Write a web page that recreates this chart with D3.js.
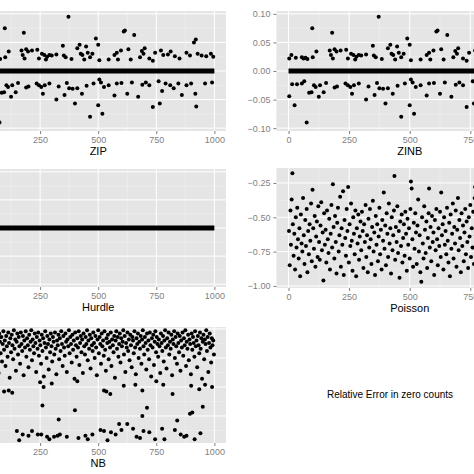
<!DOCTYPE html>
<html>
<head>
<meta charset="utf-8">
<script src="https://cdn.jsdelivr.net/npm/d3@7"></script>
<style>
  body { margin: 0; background: #fff; }
  text { font-family: "Liberation Sans", Arial, sans-serif; }
</style>
</head>
<body>
<div id="chart"></div>
<script>
// non-zero relative errors for the zero-inflated fits [index, error]
var zeroInflatedPoints = [
  [3,0.022],[12,0.028],[30,0.023],[55,0.024],[62,0.022],[70,0.023],[78,0.021],[98,0.075],[100,0.024],[115,0.034],
  [170,0.036],[175,0.028],[180,0.067],[183,0.022],[190,0.038],[198,0.034],[215,0.036],[238,0.037],[245,0.022],[258,0.030],
  [268,0.028],[275,0.020],[280,0.025],[290,0.028],[300,0.027],[320,0.029],[348,0.044],[352,0.027],[360,0.024],[372,0.095],
  [385,0.021],[410,0.040],[420,0.046],[425,0.030],[432,0.028],[440,0.020],[448,0.043],[455,0.032],[465,0.024],[475,0.030],
  [490,0.057],[500,0.046],[505,0.019],[545,0.020],[570,0.028],[580,0.032],[585,0.020],[598,0.036],[610,0.069],[615,0.071],
  [630,0.038],[640,0.020],[655,0.063],[680,0.024],[688,0.035],[695,0.030],[700,0.040],[720,0.022],[735,0.018],[745,0.032],
  [770,0.036],[780,0.028],[800,0.029],[812,0.034],[830,0.026],[850,0.022],[880,0.032],[895,0.027],[912,0.050],[920,0.055],
  [928,0.030],[945,0.027],[965,0.026],[985,0.030],[995,0.025],
  [3,-0.044],[15,-0.023],[25,-0.060],[35,-0.023],[55,-0.022],[65,-0.018],[75,-0.090],[85,-0.038],[95,-0.037],[105,-0.025],
  [112,-0.028],[125,-0.045],[130,-0.025],[145,-0.037],[155,-0.021],[190,-0.029],[200,-0.027],[235,-0.022],[245,-0.025],[255,-0.028],
  [262,-0.040],[270,-0.025],[290,-0.022],[320,-0.050],[330,-0.027],[355,-0.042],[365,-0.021],[375,-0.030],[390,-0.031],[400,-0.057],
  [410,-0.030],[430,-0.040],[450,-0.026],[465,-0.080],[480,-0.022],[500,-0.060],[505,-0.015],[512,-0.020],[518,-0.075],[525,-0.028],
  [545,-0.025],[570,-0.043],[580,-0.022],[600,-0.021],[625,-0.040],[645,-0.020],[672,-0.045],[690,-0.024],[705,-0.020],[720,-0.025],
  [735,-0.063],[760,-0.018],[765,-0.057],[775,-0.035],[790,-0.022],[810,-0.025],[825,-0.030],[845,-0.022],[860,-0.042],[880,-0.025],
  [900,-0.022],[918,-0.040],[922,-0.062],[960,-0.022],[990,-0.020]
];

// the bulk of the simulations sit exactly at zero
var zeroRun = [[0,0],[1000,0]];

var poissonPoints = [
  [2,-0.60],[5,-0.85],[8,-0.45],[10,-0.70],[13,-0.37],[16,-0.18],[18,-0.55],[21,-0.78],[24,-0.62],[27,-0.88],
  [30,-0.50],[33,-0.72],[36,-0.43],[39,-0.66],[42,-0.80],[45,-0.58],[48,-0.93],[51,-0.48],[54,-0.69],[57,-0.75],
  [60,-0.36],[63,-0.63],[66,-0.84],[69,-0.52],[72,-0.71],[75,-0.44],[78,-0.90],[81,-0.60],[84,-0.77],[87,-0.55],
  [90,-0.67],[93,-0.40],[96,-0.82],[99,-0.30],[102,-0.58],[105,-0.73],[108,-0.49],[111,-0.86],[114,-0.64],[117,-0.53],
  [120,-0.79],[123,-0.42],[126,-0.68],[129,-0.81],[132,-0.56],[135,-0.39],[138,-0.74],[141,-0.61],[144,-0.96],[147,-0.47],
  [150,-0.70],[153,-0.59],[156,-0.83],[159,-0.45],[162,-0.66],[165,-0.76],[168,-0.51],[171,-0.88],[174,-0.62],[177,-0.41],
  [180,-0.72],[183,-0.26],[186,-0.57],[189,-0.80],[192,-0.49],[195,-0.68],[198,-0.91],[201,-0.54],[204,-0.43],[207,-0.75],
  [210,-0.63],[213,-0.35],[216,-0.86],[219,-0.58],[222,-0.70],[225,-0.31],[228,-0.92],[231,-0.52],[234,-0.65],[237,-0.78],
  [240,-0.44],[243,-0.60],[246,-0.28],[249,-0.83],[252,-0.55],[255,-0.71],[258,-0.40],[261,-0.67],[264,-0.89],[267,-0.50],
  [270,-0.62],[273,-0.77],[276,-0.45],[279,-0.93],[282,-0.58],[285,-0.69],[288,-0.48],[291,-0.81],[294,-0.64],[297,-0.53],
  [300,-0.74],[303,-0.46],[306,-0.60],[309,-0.87],[312,-0.55],[315,-0.68],[318,-0.41],[321,-0.79],[324,-0.63],[327,-0.90],
  [330,-0.51],[333,-0.72],[336,-0.44],[339,-0.66],[342,-0.84],[345,-0.57],[348,-0.38],[351,-0.75],[354,-0.61],[357,-0.92],
  [360,-0.49],[363,-0.70],[366,-0.55],[369,-0.82],[372,-0.64],[375,-0.43],[378,-0.77],[381,-0.59],[384,-0.88],[387,-0.52],
  [390,-0.67],[393,-0.32],[396,-0.73],[399,-0.56],[402,-0.85],[405,-0.47],[408,-0.62],[411,-0.79],[414,-0.40],[417,-0.69],
  [420,-0.58],[423,-0.91],[426,-0.50],[429,-0.74],[432,-0.63],[435,-0.45],[437,-0.20],[440,-0.81],[443,-0.57],[446,-0.68],
  [449,-0.42],[452,-0.76],[455,-0.60],[458,-0.94],[461,-0.53],[464,-0.71],[467,-0.48],[470,-0.83],[473,-0.65],[476,-0.55],
  [479,-0.78],[482,-0.46],[485,-0.62],[488,-0.89],[491,-0.51],[494,-0.70],[497,-0.58],[500,-0.80],[503,-0.44],[505,-0.24],
  [508,-0.29],[511,-0.66],[514,-0.86],[517,-0.54],[520,-0.73],[523,-0.47],[526,-0.61],[529,-0.84],[532,-0.56],[535,-0.37],
  [538,-0.75],[541,-0.63],[544,-0.90],[548,-0.97],[551,-0.50],[554,-0.69],[557,-0.80],[560,-0.42],[563,-0.59],[566,-0.76],
  [569,-0.53],[572,-0.87],[575,-0.65],[578,-0.47],[580,-0.29],[583,-0.72],[586,-0.57],[589,-0.82],[592,-0.49],[595,-0.68],
  [598,-0.61],[601,-0.92],[604,-0.52],[607,-0.74],[610,-0.44],[613,-0.66],[616,-0.85],[619,-0.58],[622,-0.71],[625,-0.46],
  [628,-0.79],[630,-0.32],[633,-0.63],[636,-0.55],[639,-0.88],[642,-0.50],[645,-0.70],[648,-0.60],[651,-0.77],[654,-0.43],
  [657,-0.67],[660,-0.83],[663,-0.54],[666,-0.93],[669,-0.48],[672,-0.73],[675,-0.62],[678,-0.40],[681,-0.80],[684,-0.57],
  [687,-0.69],[690,-0.45],[693,-0.86],[696,-0.59],[699,-0.36],[702,-0.74],[705,-0.52],[708,-0.65],[711,-0.90],[714,-0.47],
  [717,-0.71],[720,-0.56],[723,-0.82],[726,-0.61],[729,-0.44],[732,-0.77],[735,-0.53],[738,-0.68],[741,-0.87],[744,-0.50],
  [747,-0.64],[750,-0.41],[753,-0.79],[756,-0.58],[759,-0.72],[762,-0.46],[765,-0.84],[768,-0.36],[770,-0.28],[773,-0.63],
  [776,-0.55],[780,-0.95],[783,-0.70],[786,-0.49],[789,-0.76],[792,-0.60],[795,-0.86],[798,-0.52],[801,-0.67],[804,-0.44],
  [807,-0.81],[810,-0.57],[813,-0.73],[816,-0.48],[819,-0.91],[822,-0.62],[825,-0.39],[828,-0.75],[831,-0.54],[834,-0.69],
  [837,-0.83],[840,-0.46],[843,-0.65],[846,-0.58],[849,-0.88],[852,-0.51],[855,-0.72],[858,-0.43],[861,-0.78],[864,-0.61],
  [867,-0.55],[870,-0.92],[873,-0.47],[876,-0.70],[879,-0.63],[882,-0.34],[885,-0.80],[888,-0.56],[891,-0.68],[894,-0.45],
  [897,-0.85],[900,-0.59],[903,-0.74],[906,-0.50],[909,-0.66],[912,-0.89],[915,-0.42],[918,-0.77],[921,-0.60],[924,-0.53],
  [927,-0.71],[930,-0.87],[933,-0.48],[936,-0.64],[939,-0.57],[942,-0.82],[945,-0.38],[948,-0.69],[951,-0.52],[954,-0.76],
  [957,-0.62],[960,-0.93],[963,-0.46],[966,-0.73],[969,-0.58],[972,-0.84],[975,-0.51],[978,-0.67],[981,-0.44],[984,-0.79],
  [987,-0.61],[990,-0.55],[993,-0.88],[996,-0.49],[999,-0.70]
];

// NB panel: y axis labels are cut off in the source, values on a 0..1 scale
var nbPoints = [
  [2,0.92],[5,0.78],[8,0.98],[11,0.85],[14,0.71],[17,0.95],[20,0.88],[23,0.80],[26,0.66],[29,0.93],
  [32,0.87],[35,0.75],[38,0.97],[41,0.83],[44,0.90],[47,0.69],[50,0.94],[53,0.81],[56,0.86],[59,0.99],
  [62,0.77],[65,0.91],[68,0.84],[71,0.62],[74,0.96],[77,0.89],[80,0.79],[83,0.93],[86,0.72],[89,0.87],
  [92,0.98],[95,0.82],[98,0.90],[101,0.68],[104,0.94],[107,0.85],[110,0.76],[113,0.97],[116,0.88],[119,0.58],
  [122,0.92],[125,0.80],[128,0.95],[131,0.86],[134,0.74],[137,0.99],[140,0.83],[143,0.91],[146,0.64],[149,0.89],
  [152,0.96],[155,0.78],[158,0.93],[161,0.85],[164,0.70],[167,0.97],[170,0.87],[173,0.81],[176,0.94],[179,0.60],
  [182,0.90],[185,0.84],[188,0.98],[191,0.76],[194,0.92],[197,0.86],[200,0.67],[203,0.95],[206,0.82],[209,0.89],
  [212,0.99],[215,0.73],[218,0.91],[221,0.85],[224,0.79],[227,0.96],[230,0.88],[233,0.63],[236,0.93],[239,0.83],
  [242,0.97],[245,0.77],[248,0.90],[251,0.86],[254,0.70],[257,0.95],[260,0.81],[263,0.92],[266,0.59],[269,0.88],
  [272,0.98],[275,0.84],[278,0.75],[281,0.94],[284,0.87],[287,0.65],[290,0.91],[293,0.80],[296,0.96],[299,0.85],
  [302,0.72],[305,0.93],[308,0.89],[311,0.78],[314,0.97],[317,0.83],[320,0.61],[323,0.90],[326,0.86],[329,0.95],
  [332,0.74],[335,0.92],[338,0.81],[341,0.98],[344,0.87],[347,0.68],[350,0.94],[353,0.84],[356,0.77],[359,0.96],
  [362,0.89],[365,0.63],[368,0.91],[371,0.85],[374,0.99],[377,0.79],[380,0.93],[383,0.87],[386,0.71],[389,0.95],
  [392,0.82],[395,0.90],[398,0.57],[401,0.97],[404,0.86],[407,0.76],[410,0.92],[413,0.84],[416,0.98],[419,0.69],
  [422,0.88],[425,0.94],[428,0.80],[431,0.91],[434,0.62],[437,0.96],[440,0.85],[443,0.78],[446,0.93],[449,0.87],
  [452,0.99],[455,0.73],[458,0.90],[461,0.83],[464,0.95],[467,0.66],[470,0.92],[473,0.86],[476,0.81],[479,0.97],
  [482,0.88],[485,0.75],[488,0.94],[491,0.84],[494,0.60],[497,0.91],[500,0.99],[503,0.79],[506,0.93],[509,0.87],
  [512,0.70],[515,0.96],[518,0.85],[521,0.90],[524,0.77],[527,0.98],[530,0.82],[533,0.64],[536,0.92],[539,0.88],
  [542,0.95],[545,0.74],[548,0.89],[551,0.84],[554,0.97],[557,0.68],[560,0.91],[563,0.86],[566,0.80],[569,0.94],
  [572,0.58],[575,0.90],[578,0.98],[581,0.83],[584,0.93],[587,0.76],[590,0.87],[593,0.96],[596,0.71],[599,0.92],
  [602,0.85],[605,0.89],[608,0.99],[611,0.78],[614,0.94],[617,0.63],[620,0.88],[623,0.84],[626,0.97],[629,0.81],
  [632,0.91],[635,0.73],[638,0.95],[641,0.86],[644,0.67],[647,0.93],[650,0.90],[653,0.79],[656,0.98],[659,0.84],
  [662,0.61],[665,0.92],[668,0.87],[671,0.96],[674,0.75],[677,0.89],[680,0.83],[683,0.94],[686,0.70],[689,0.91],
  [692,0.99],[695,0.85],[698,0.78],[701,0.93],[704,0.88],[707,0.65],[710,0.96],[713,0.82],[716,0.90],[719,0.74],
  [722,0.97],[725,0.86],[728,0.59],[731,0.92],[734,0.84],[737,0.95],[740,0.69],[743,0.89],[746,0.98],[749,0.80],
  [752,0.93],[755,0.87],[758,0.76],[761,0.91],[764,0.85],[767,0.62],[770,0.96],[773,0.88],[776,0.81],[779,0.94],
  [782,0.72],[785,0.90],[788,0.99],[791,0.84],[794,0.66],[797,0.92],[800,0.86],[803,0.97],[806,0.78],[809,0.89],
  [812,0.83],[815,0.95],[818,0.60],[821,0.91],[824,0.87],[827,0.98],[830,0.75],[833,0.93],[836,0.85],[839,0.70],
  [842,0.96],[845,0.88],[848,0.80],[851,0.94],[854,0.64],[857,0.90],[860,0.84],[863,0.97],[866,0.77],[869,0.92],
  [872,0.86],[875,0.99],[878,0.68],[881,0.89],[884,0.83],[887,0.95],[890,0.73],[893,0.91],[896,0.87],[899,0.61],
  [902,0.96],[905,0.82],[908,0.93],[911,0.88],[914,0.76],[917,0.98],[920,0.85],[923,0.90],[926,0.67],[929,0.94],
  [932,0.86],[935,0.79],[938,0.97],[941,0.83],[944,0.92],[947,0.57],[950,0.89],[953,0.95],[956,0.74],[959,0.91],
  [962,0.87],[965,0.99],[968,0.81],[971,0.93],[974,0.63],[977,0.88],[980,0.96],[983,0.84],[986,0.71],[989,0.92],
  [992,0.86],[995,0.90],[998,0.78],
  [95,0.46],[115,0.47],[130,0.45],[250,0.54],[265,0.50],[525,0.47],[535,0.46],[552,0.44],[610,0.51],[660,0.52],
  [690,0.47],[750,0.55],[820,0.44],[900,0.51],[935,0.48],[990,0.50],[410,0.55],[300,0.53],[960,0.52],[780,0.52],
  [10,0.18],[25,0.10],[40,0.16],[55,0.08],[150,0.12],[160,0.04],[175,0.09],[200,0.08],[215,0.12],[240,0.09],
  [255,0.09],[280,0.07],[290,0.05],[310,0.07],[325,0.08],[330,0.22],[335,0.09],[365,0.07],[415,0.06],[445,0.08],
  [455,0.05],[475,0.09],[510,0.13],[525,0.12],[540,0.04],[555,0.11],[575,0.09],[590,0.18],[600,0.13],[625,0.18],
  [650,0.14],[665,0.07],[680,0.06],[690,0.25],[695,0.12],[710,0.32],[720,0.11],[745,0.05],[775,0.14],[785,0.05],
  [830,0.13],[840,0.21],[855,0.09],[870,0.07],[880,0.08],[895,0.27],[905,0.28],[915,0.05],[940,0.10],[950,0.33],
  [260,0.34],[400,0.30]
];

var xTicks = [0, 250, 500, 750, 1000];
var xMinor = [125, 375, 625, 875];
var zeroTicks = [-0.10, -0.05, 0.00, 0.05, 0.10];
var zeroMinor = [-0.075, -0.025, 0.025, 0.075];
var poissonTicks = [-1.00, -0.75, -0.50, -0.25];
var poissonMinor = [-0.875, -0.625, -0.375];
var nbTicks = [0.25, 0.50, 0.75, 1.00];
var nbMinor = [0.125, 0.375, 0.625, 0.875];

var svg = d3.select("#chart").append("svg")
    .attr("width", 474)
    .attr("height", 474);

// each panel: pixel box, y domain, ticks, label
var drawPanel = function(opt) {
    var x = d3.scaleLinear().domain([-50, 1050]).range([opt.left, opt.right]);
    var y = d3.scaleLinear().domain(opt.yDomain).range([opt.bottom, opt.top]);
    var g = svg.append("g");

    g.append("rect")
        .attr("x", opt.left).attr("y", opt.top)
        .attr("width", opt.right - opt.left).attr("height", opt.bottom - opt.top)
        .attr("fill", "#e5e5e5");

    // minor grid
    g.selectAll(".vmin").data(xMinor).enter().append("line")
        .attr("x1", x).attr("x2", x).attr("y1", opt.top).attr("y2", opt.bottom)
        .attr("stroke", "#f2f2f2").attr("stroke-width", 0.5);
    g.selectAll(".hmin").data(opt.minor).enter().append("line")
        .attr("y1", y).attr("y2", y).attr("x1", opt.left).attr("x2", opt.right)
        .attr("stroke", "#f2f2f2").attr("stroke-width", 0.5);
    // major grid
    g.selectAll(".vmaj").data(xTicks).enter().append("line")
        .attr("x1", x).attr("x2", x).attr("y1", opt.top).attr("y2", opt.bottom)
        .attr("stroke", "#fff").attr("stroke-width", 1);
    g.selectAll(".hmaj").data(opt.ticks).enter().append("line")
        .attr("y1", y).attr("y2", y).attr("x1", opt.left).attr("x2", opt.right)
        .attr("stroke", "#fff").attr("stroke-width", 1);

    // x axis
    var xAxis = g.append("g")
        .attr("transform", "translate(0," + opt.bottom + ")")
        .call(d3.axisBottom(x).tickValues(xTicks).tickSize(3).tickPadding(3).tickFormat(d3.format("d")));
    xAxis.select(".domain").remove();
    xAxis.selectAll("line").attr("stroke", "#7f7f7f");
    xAxis.selectAll("text").attr("fill", "#7f7f7f").style("font-size", "9px");

    if (opt.yLabels) {
        var yAxis = g.append("g")
            .attr("transform", "translate(" + opt.left + ",0)")
            .call(d3.axisLeft(y).tickValues(opt.ticks).tickSize(3).tickPadding(3).tickFormat(d3.format(".2f")));
        yAxis.select(".domain").remove();
        yAxis.selectAll("line").attr("stroke", "#7f7f7f");
        yAxis.selectAll("text").attr("fill", "#7f7f7f").style("font-size", "9px");
    }

    g.append("text")
        .attr("x", x(500)).attr("y", opt.bottom + 24)
        .attr("text-anchor", "middle")
        .style("font-size", "11px")
        .text(opt.label);

    if (opt.zeroLine) {
        g.append("path")
            .datum(zeroRun)
            .attr("d", d3.line().x(function(d){ return x(d[0]); }).y(function(d){ return y(d[1]); }))
            .attr("stroke", "#000").attr("stroke-width", 5).attr("fill", "none");
    }

    g.selectAll("circle").data(opt.points).enter().append("circle")
        .attr("cx", function(d){ return x(d[0]); })
        .attr("cy", function(d){ return y(d[1]); })
        .attr("r", 2)
        .attr("fill", "#000");
};

var zeroDomain = [-0.105, 0.105];

drawPanel({left: -29.6, right: 226, top: 11, bottom: 131, yDomain: zeroDomain,
    ticks: zeroTicks, minor: zeroMinor, points: zeroInflatedPoints, zeroLine: true, label: "ZIP"});
drawPanel({left: 276.4, right: 543, top: 11, bottom: 131, yDomain: zeroDomain,
    ticks: zeroTicks, minor: zeroMinor, points: zeroInflatedPoints, zeroLine: true, yLabels: true, label: "ZINB"});
drawPanel({left: -29.6, right: 226, top: 169, bottom: 287, yDomain: zeroDomain,
    ticks: zeroTicks, minor: zeroMinor, points: [], zeroLine: true, label: "Hurdle"});
drawPanel({left: 276.4, right: 543, top: 168, bottom: 288, yDomain: [-1.015, -0.141],
    ticks: poissonTicks, minor: poissonMinor, points: poissonPoints, yLabels: true, label: "Poisson"});
drawPanel({left: -29.6, right: 226, top: 327, bottom: 443, yDomain: [0.017, 1.017],
    ticks: nbTicks, minor: nbMinor, points: nbPoints, label: "NB"});

svg.append("text")
    .attr("x", 390).attr("y", 398)
    .attr("text-anchor", "middle")
    .style("font-size", "10px")
    .text("Relative Error in zero counts");
</script>
</body>
</html>
